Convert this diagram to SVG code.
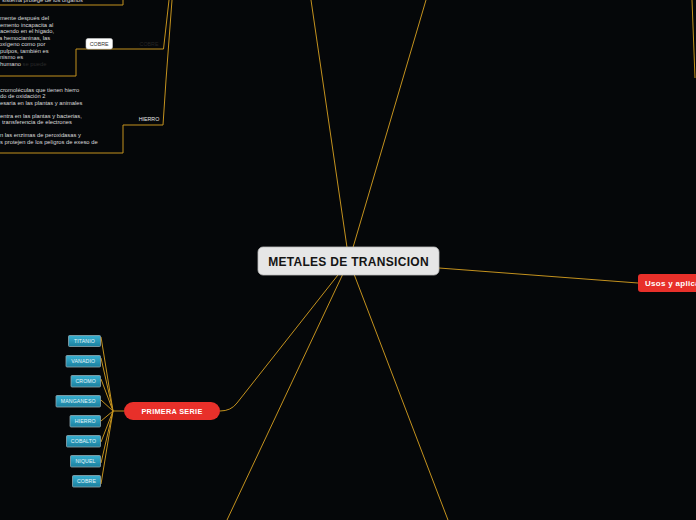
<svg xmlns="http://www.w3.org/2000/svg" width="696" height="520" viewBox="0 0 696 520">
<defs>
<linearGradient id="teal" x1="0" y1="0" x2="0" y2="1">
<stop offset="0" stop-color="#3bb2d2"/>
<stop offset="1" stop-color="#1a7f9e"/>
</linearGradient>
<style>
.ln{fill:none;stroke:#c4921e;stroke-width:1}
.body{font-family:"Liberation Sans",Arial,sans-serif;font-size:5.8px;fill:#dcdcdc}
.lbl{font-family:"Liberation Sans",Arial,sans-serif;font-size:5.3px;text-anchor:middle}
.child rect{fill:url(#teal);stroke:#8fa7b0;stroke-width:0.8}
.child text{font-family:"Liberation Sans",Arial,sans-serif;font-size:5.2px;letter-spacing:0.15px;fill:#e6f6fa;text-anchor:middle}
.red{fill:#e8302a}
.redt{font-family:"Liberation Sans",Arial,sans-serif;font-weight:bold;font-size:7.3px;letter-spacing:0.3px;fill:#ffffff}
</style>
</defs>
<rect width="696" height="520" fill="#050709"/>
<g id="connectors">
<line class="ln" x1="349" y1="261" x2="311" y2="0"/>
<line class="ln" x1="349" y1="261" x2="426" y2="0"/>
<line class="ln" x1="349" y1="261" x2="227" y2="520"/>
<line class="ln" x1="349" y1="261" x2="448" y2="520"/>
<path class="ln" d="M439,268 L638,283"/>
<path class="ln" d="M349,261 L237,403 Q231,411 220,411"/>
<line class="ln" x1="692" y1="0" x2="695" y2="78"/>
<path class="ln" d="M0,5 L123,5 L123,0"/>
<path class="ln" d="M169,0 L163.5,49 L76,49 L76,76 L0,76"/>
<path class="ln" d="M172,0 L166,80 L163,125 L123,125 L123,153 L0,153"/>
<path class="ln" d="M124,411 L113,411"/>
<path class="ln" d="M113,411 L101,337 M113,411 L101,358 M113,411 L101,379 M113,411 L101,400 M113,411 L101,421 M113,411 L101,442 M113,411 L101,463 M113,411 L101,484"/>
</g>
<g id="top-text">
<text class="body" x="2" y="1.5">sistema protege de los órganos</text>
</g>
<g id="cobre-text">
<text class="body" x="0" y="20">mente después del</text>
<text class="body" x="0" y="26.5">emento incapacita al</text>
<text class="body" x="0" y="33">acendo en el hígado,</text>
<text class="body" x="-1" y="39.5">a hemocianinas, las</text>
<text class="body" x="-1" y="46">oxígeno como por</text>
<text class="body" x="0" y="52.5">pulpos, también es</text>
<text class="body" x="0" y="59">nismo es</text>
<text class="body" x="0" y="65.5">humano <tspan fill="#2a2a2a">se puede</tspan></text>
</g>
<g id="cobre-label">
<rect x="86" y="38.5" width="26.5" height="10.5" rx="2" fill="#ffffff" stroke="#cccccc" stroke-width="0.6"/>
<text class="lbl" x="99.2" y="45.7" fill="#333333">COBRE</text>
<text class="lbl" x="149" y="45.5" fill="#262626">COBRE</text>
</g>
<g id="hierro-text">
<text class="body" x="0" y="92">cromoléculas que  tienen hierro</text>
<text class="body" x="0" y="98">do de oxidación 2</text>
<text class="body" x="0" y="104.5">esaria en las plantas y animales</text>
<text class="body" x="0" y="118">entra en las plantas y bacterias,</text>
<text class="body" x="2" y="124">transferencia de electrones</text>
<text class="body" x="0" y="136.5">n las enzimas de peroxidasas y</text>
<text class="body" x="0" y="143.5">s protejen de los peligros de exeso de</text>
</g>
<g id="hierro-label">
<text class="lbl" x="149" y="121" fill="#e6e6e6">HIERRO</text>
</g>
<g id="center">
<rect x="258" y="247" width="181" height="28" rx="5" fill="#e6e6e6" stroke="#bdbdbd" stroke-width="0.8"/>
<text x="348.5" y="266" text-anchor="middle" font-family="Liberation Sans, Arial, sans-serif" font-weight="bold" font-size="12" letter-spacing="0.3" fill="#141414">METALES DE TRANSICION</text>
</g>
<g id="usos">
<rect class="red" x="638" y="274" width="70" height="18" rx="3"/>
<text class="redt" x="645" y="285.8" style="font-size:8px">Usos y aplica</text>
</g>
<g id="primera-serie">
<rect class="red" x="124" y="402" width="96" height="18" rx="9"/>
<text class="redt" x="172" y="413.6" text-anchor="middle">PRIMERA SERIE</text>
</g>
<g id="titanio" class="child"><rect x="68.5" y="335.5" width="32" height="11" rx="1"/><text x="84.5" y="343">TITANIO</text></g>
<g id="vanadio" class="child"><rect x="66" y="355.5" width="34.5" height="11.5" rx="1"/><text x="83.2" y="363.2">VANADIO</text></g>
<g id="cromo" class="child"><rect x="71" y="375.5" width="29.5" height="11.5" rx="1"/><text x="85.7" y="383.2">CROMO</text></g>
<g id="manganeso" class="child"><rect x="56" y="395.5" width="44.5" height="11.5" rx="1"/><text x="78.2" y="403.2">MANGANESO</text></g>
<g id="hierro" class="child"><rect x="70" y="415.5" width="30.5" height="11.5" rx="1"/><text x="85.2" y="423.2">HIERRO</text></g>
<g id="cobalto" class="child"><rect x="66.5" y="435.5" width="34" height="11.5" rx="1"/><text x="83.5" y="443.2">COBALTO</text></g>
<g id="niquel" class="child"><rect x="70.5" y="455.5" width="30" height="11.5" rx="1"/><text x="85.5" y="463.2">NIQUEL</text></g>
<g id="cobre" class="child"><rect x="72.5" y="475.5" width="28" height="11.5" rx="1"/><text x="86.5" y="483.2">COBRE</text></g>
</svg>
